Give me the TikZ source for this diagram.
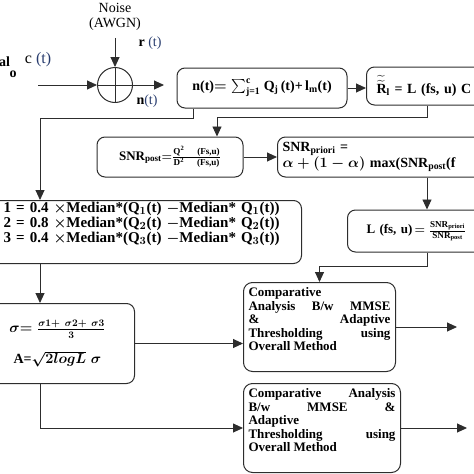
\documentclass[tikz,border=0pt]{standalone}
\usepackage{amsmath}
\usepackage{amssymb}
\usepackage{bm}
\usepackage{fontspec}
\setmainfont{Liberation Serif}
\usetikzlibrary{arrows.meta, calc}
\definecolor{C0}{RGB}{ 45, 45, 45}
\definecolor{C1}{RGB}{ 40, 60,110}

\tikzset{
  lbl/.style={inner sep=1pt, font=\fontsize{14}{15}\selectfont},
  blk/.style={draw=C0, line width=1pt, rounded corners=8pt, inner sep=3pt,
              font=\fontsize{14}{15}\selectfont\bfseries\boldmath},
  cmp/.style={draw=C0, line width=1pt, rounded corners=9pt, inner xsep=5pt, inner ysep=3pt,
              align=justify, text height=11pt, text depth=72pt,
              font=\fontsize{13}{13.5}\selectfont\bfseries},
  ln/.style={draw=C0, line width=0.9pt},
  arr/.style={ln, -{Triangle[length=10pt,width=9pt]}},
}

\begin{document}
\begin{tikzpicture}[x=1pt, y=-1pt]
    \useasboundingbox (0,0) rectangle (474,474);
    %% noise and adder
    \node[lbl, align=center] (noise) at (115,17) {Noise\\(AWGN)};
    \node[draw=C0, line width=1pt, circle, minimum size=35pt, inner sep=0pt] (sum) at (115,85) {};
    \draw[ln] (sum.north) -- (sum.south);
    \draw[ln] (sum.west) -- (sum.east);
    \node[lbl] (rt) at (150,43) {\textbf{r} \textcolor{C1}{(t)}};
    \node[lbl] (nt) at (147,101) {\textbf{n}\textcolor{C1}{(t)}};
    \node[lbl, font=\fontsize{16}{16}\selectfont] (ct) at (38,60) {c \textcolor{C1}{(t)}};
    \node[lbl, anchor=west] (sigl) at (-2,62) {\textbf{al}};
    \node[lbl] (sigo) at (13,74) {\textbf{o}};
    \coordinate (in) at (38,85);
    \coordinate (nout) at (164,85);
    %% upper boxes
    \node[blk, minimum width=170pt, minimum height=40pt] (nbox) at (262,88)
        {n(t)$=\sum\nolimits_{\textbf{j=1}}^{\textbf{c}}$ Q$_{\textbf{j}}$\,(t)+\,l$_{\textbf{m}}$(t)};
    \node[blk, anchor=west, minimum width=150pt, minimum height=38pt, text width=130pt, align=left] (Rbox) at (366,86)
        {$\widetilde{\widetilde{\textbf{R}}}_{\textbf{l}}$ = L (fs, u) C};
    \node[blk, minimum width=146pt, minimum height=40pt, font=\fontsize{13}{15}\selectfont\bfseries\boldmath] (snrpost) at (170,157)
        {SNR$_{\textbf{post}}{=}\frac{\textbf{Q}^{\textbf{2}}\quad\textbf{(Fs,u)}}{\textbf{D}^{\textbf{2}}\quad\textbf{(Fs,u)}}$};
    \node[blk, anchor=west, minimum width=220pt, minimum height=40pt, text width=210pt, align=left] (snrpri) at (277,157)
        {SNR$_{\textbf{priori}}$ =\\$\alpha+(1-\alpha)$ max(SNR$_{\textbf{post}}$(f};
    \node[blk, anchor=west, minimum width=160pt, minimum height=42pt, text width=150pt, align=left,
          font=\fontsize{13}{15}\selectfont\bfseries\boldmath] (Lbox) at (347,231)
        {\hspace*{14pt}L (fs, u)\,$=\frac{\textbf{SNR}_{\textbf{priori}}}{\textbf{SNR}_{\textbf{post}}}$};
    %% sigma boxes
    \node[blk, anchor=north east, text width=310pt, align=right, inner xsep=22pt,
          text height=9pt, text depth=48pt, font=\fontsize{15}{15}\selectfont\bfseries\boldmath] (medbox) at (302,200)
        {1 = 0.4 $\times$Median*(Q$_1$(t) $-$Median* Q$_1$(t))\\
         2 = 0.8 $\times$Median*(Q$_2$(t) $-$Median* Q$_2$(t))\\
         3 = 0.4 $\times$Median*(Q$_3$(t) $-$Median* Q$_3$(t))};
    \node[blk, anchor=north east, text width=148pt, align=center, minimum height=80pt] (sigbox) at (135,303)
        {$\sigma{=}\ \frac{\sigma1+\ \sigma2+\ \sigma3}{3}$\\[12pt]A=$\sqrt{2logL}\ \sigma$};
    %% comparison boxes
    \node[cmp, anchor=north west, text width=142pt] (comp1) at (243,282)
        {Comparative\\Analysis B/w MMSE\linebreak \& Adaptive\linebreak Thresholding using\linebreak Overall Method};
    \node[cmp, anchor=north west, text width=147pt] (comp2) at (243,383)
        {Comparative Analysis\linebreak B/w MMSE \&\linebreak Adaptive\\Thresholding using\linebreak Overall Method};
    %% bends
    \coordinate (col) at (427,0);
    \coordinate (nbx) at (193,0);
    \coordinate (nb) at (40,118);
    \coordinate (rb) at (217,117);
    \coordinate (lb) at (0,266);
    \coordinate (out1) at (457,0);
    \coordinate (out2) at (467,0);
    %% connectors
    \draw[arr, shorten <=6pt] (noise.south) -- (sum.north);
    \draw[arr] (in) -- (sum.west);
    \draw[arr] (sum.east) -- (nout);
    \draw[arr] (nbox.east) -- (nbox.east -| Rbox.west);
    \draw[arr] (Rbox.south -| col) |- (rb) -- (rb |- snrpost.north);
    \draw[arr] (nbox.south -| nbx) |- (nb) -- (medbox.north -| nb);
    \draw[arr] (snrpost.east) -- (snrpost.east -| snrpri.west);
    \draw[arr] (snrpri.south -| col) -- (Lbox.north -| col);
    \draw[arr] (Lbox.south -| col) |- (lb -| comp1.north) -- (comp1.north);
    \draw[arr] (medbox.south -| nb) -- (sigbox.north -| nb);
    \draw[arr] (sigbox.east) -- (sigbox.east -| comp1.west);
    \draw[arr] (sigbox.south -| nb) |- (comp2.west);
    \draw[arr] (comp1.east) -- (comp1.east -| out1);
    \draw[arr] (comp2.east) -- (comp2.east -| out2);
\end{tikzpicture}
\end{document}
